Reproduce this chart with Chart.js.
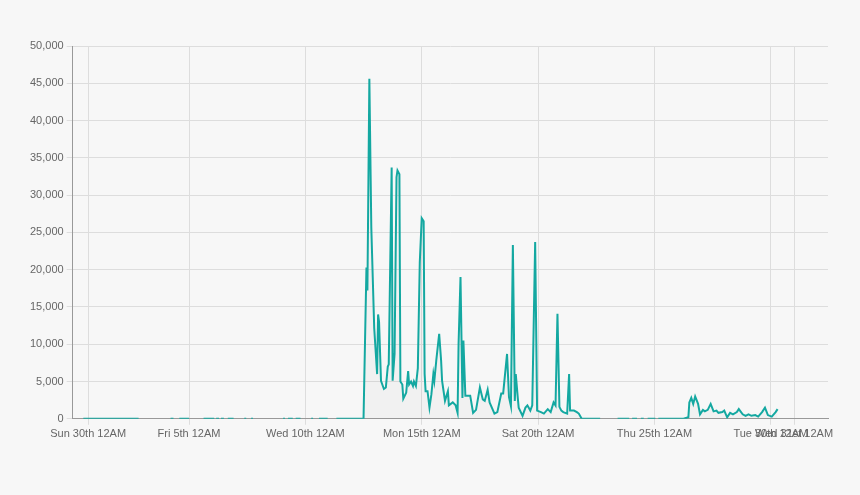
<!DOCTYPE html>
<html>
<head>
<meta charset="utf-8">
<script src="https://cdn.jsdelivr.net/npm/chart.js@4"></script>
<style>
  html, body { margin: 0; padding: 0; background: #f7f7f7; }
  #wrap { width: 860px; height: 495px; }
</style>
</head>
<body>
<div id="wrap"><canvas id="grafico"></canvas></div>
<script>
// hours from Fri 5th 12AM, null value = no data (gap)
const horas = [
  -109, -52, -51,
  -19, -16, -15, -10, 0, 1, 15, 20, 21, 26, 27, 28, 31, 32, 33, 36, 37, 40, 46, 47,
  57, 59, 60, 64, 66, 67, 97, 99, 100, 102, 104, 105, 107, 108, 110, 115, 116,
  126, 128, 129, 134, 143, 144,
  152, 180, 183, 184, 186, 188, 191, 194, 195, 196, 198, 201, 203, 205, 206, 209, 210,
  212, 214, 215, 217, 218, 220, 221, 224, 226, 227, 229, 231, 232, 234, 236, 238, 240,
  242, 243, 244, 246, 248, 250, 252, 253, 255, 258, 260, 261, 262, 264, 267, 268, 272,
  275, 277, 278, 280, 282, 283, 285,
  290, 293, 296, 300, 303, 305, 308, 310, 313, 315, 318, 322, 324, 328, 330, 332, 334,
  336, 337, 339, 340, 344, 347, 349, 352, 354, 357, 359, 363, 366, 370, 373, 376, 378,
  380, 382, 384, 386, 390, 392, 393, 397, 400, 402, 405, 424, 425,
  442, 454, 455, 457, 462, 463, 466, 469, 470, 473, 481, 482,
  484, 510, 515, 516, 518, 520, 522, 525, 527, 530, 532, 535, 538, 541, 544, 546, 550,
  552, 555, 558, 561, 565, 567, 571, 574, 577, 580, 584, 587, 591, 594, 597, 601, 605, 607
];
const visitas = [
  0, 0, null,
  0, 0, null, 0, 0, null, 0, 0, 0, 0, null, 0, 0, null, 0, 0, null, 0, 0, null,
  0, 0, null, 0, 0, null, 0, 0, null, 0, 0, 0, 0, null, 0, 0, null,
  0, 0, null, 0, 0, null,
  0, 0, 20300, 17200, 45600, 25700, 12200, 6000, 14000, 13000, 5100, 4000, 4200, 7000, 7300, 33700, 5100,
  8700, 32400, 33300, 32800, 5000, 4600, 2700, 3500, 6400, 4600, 5000, 4400, 5000, 4400, 6800, 21000, 26900,
  26500, 6000, 3700, 3700, 1500, 3300, 6000, 5100, 7800, 11400, 7800, 5100, 4200, 2400, 3700, 1800, 2200,
  1800, 800, 10000, 19000, 2800, 10500, 3100,
  3100, 800, 1200, 4200, 2600, 2400, 3900, 2200, 1300, 700, 900, 3400, 3400, 8700, 2900, 1700, 23300,
  2400, 6000, 2900, 1500, 400, 1500, 1800, 1100, 1800, 23700, 1100, 900, 700, 1300, 900, 2200, 1800,
  14100, 1600, 1100, 900, 700, 6000, 1100, 1100, 900, 700, 0, 0, null,
  0, 0, null, 0, 0, null, 0, 0, null, 0, 0, null,
  0, 0, 200, 2200, 2800, 2000, 3000, 2000, 600, 1200, 1000, 1200, 2000, 1000, 1100, 800, 900,
  1100, 200, 800, 600, 900, 1300, 600, 400, 600, 400, 500, 300, 900, 1500, 500, 300, 900, 1300
];
const tickHoras = [-104, 0, 120, 240, 360, 480, 600, 624];
const tickTextos = ["Sun 30th 12AM", "Fri 5th 12AM", "Wed 10th 12AM", "Mon 15th 12AM",
  "Sat 20th 12AM", "Thu 25th 12AM", "Tue 30th 12AM", "Wed 31st 12AM"];

const puntos = horas.map((h, i) => ({ x: h, y: visitas[i] }));

new Chart(document.getElementById("grafico"), {
  type: "line",
  data: {
    datasets: [{
      data: puntos,
      borderColor: "#14a8a1",
      borderWidth: 2,
      backgroundColor: "rgba(0,0,0,0.025)",
      fill: "origin",
      pointRadius: 0,
      tension: 0,
      spanGaps: false,
    }],
  },
  options: {
    responsive: true,
    maintainAspectRatio: false,
    animation: false,
    layout: { padding: { left: 27, right: 32, top: 46, bottom: 51 } },
    plugins: { legend: { display: false }, tooltip: { enabled: false } },
    scales: {
      x: {
        type: "linear",
        min: -120,
        max: 659,
        afterBuildTicks: (s) => { s.ticks = tickHoras.map((v) => ({ value: v })); },
        ticks: {
          autoSkip: false,
          maxRotation: 0,
          color: "#666",
          font: { family: "Liberation Sans", size: 11 },
          callback: (v, i) => tickTextos[i],
        },
        grid: { color: "#dddddd", drawTicks: true, tickLength: 6 },
        border: { color: "#999" },
      },
      y: {
        min: 0,
        max: 50000,
        ticks: {
          stepSize: 5000,
          color: "#666",
          font: { family: "Liberation Sans", size: 11 },
          callback: (v) => v.toLocaleString("en-US"),
        },
        grid: { color: "#dddddd", tickLength: 6 },
        border: { color: "#999" },
      },
    },
  },
});
</script>
</body>
</html>
